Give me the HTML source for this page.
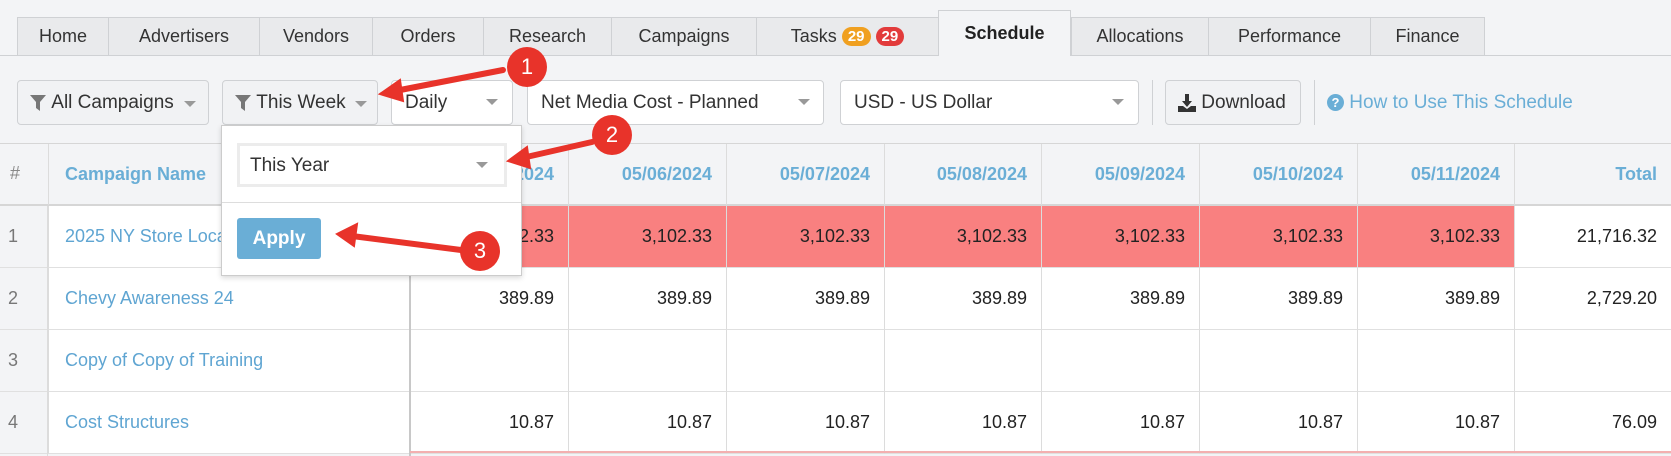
<!DOCTYPE html>
<html><head><meta charset="utf-8"><style>
*{box-sizing:border-box;margin:0;padding:0}
body{width:1671px;height:453px;overflow:hidden;background:#f3f4f6;font-family:"Liberation Sans",Arial,sans-serif;color:#333;position:relative}
.a{position:absolute}
.tab{position:absolute;top:17px;height:39px;background:#e9eaec;border:1px solid #cfd1d4;border-right:none;font-size:18px;color:#333;display:flex;align-items:center;justify-content:center}
.tab.act{top:10px;height:46px;background:#f3f4f6;font-weight:bold;border-right:1px solid #cfd1d4;border-bottom:none;color:#222}
.btn{position:absolute;top:80px;height:45px;border:1px solid #cfd1d4;border-radius:4px;font-size:19px;display:flex;align-items:center;color:#333}
.caret{position:absolute;width:0;height:0;border-left:6px solid transparent;border-right:6px solid transparent;border-top:6px solid #999}
.hd{position:absolute;top:144px;height:61px;font-size:18px;font-weight:bold;color:#6aaed6;display:flex;align-items:center;justify-content:flex-end;padding-right:14px;border-left:1px solid #dcdcdc}
.c{position:absolute;height:62px;font-size:18px;color:#222;display:flex;align-items:center;justify-content:flex-end;padding-right:14px;border-left:1px solid #dcdcdc;border-bottom:1px solid #e0e0e0}
.nm{position:absolute;left:48px;width:362px;height:62px;font-size:18px;color:#5fa5d2;display:flex;align-items:center;padding-left:16px;background:#fff;border-left:1px solid #dcdcdc;border-bottom:1px solid #e0e0e0}
.num{position:absolute;left:0;width:48px;height:62px;font-size:18px;color:#777;display:flex;align-items:center;padding-left:8px;background:#f3f4f6;border-bottom:1px solid #e0e0e0}
.circ{position:absolute;width:40px;height:40px;border-radius:50%;background:#e8332a;color:#fff;font-size:22px;display:flex;align-items:center;justify-content:center}
</style></head><body>
<div class="a" style="left:0;top:55px;width:1671px;height:1px;background:#cfd1d4"></div>
<div class="tab" style="left:17px;width:91px">Home</div>
<div class="tab" style="left:108px;width:151px">Advertisers</div>
<div class="tab" style="left:259px;width:113px">Vendors</div>
<div class="tab" style="left:372px;width:111px">Orders</div>
<div class="tab" style="left:483px;width:128px">Research</div>
<div class="tab" style="left:611px;width:145px">Campaigns</div>
<div class="tab" style="left:756px;width:182px">Tasks&nbsp;<span style="background:#f0a020;color:#fff;border-radius:10px;padding:1px 6px;font-size:15px;font-weight:bold">29</span>&nbsp;<span style="background:#e23b3b;color:#fff;border-radius:10px;padding:1px 6px;font-size:15px;font-weight:bold">29</span></div>
<div class="tab act" style="left:938px;width:133px">Schedule</div>
<div class="tab" style="left:1071px;width:137px">Allocations</div>
<div class="tab" style="left:1208px;width:162px">Performance</div>
<div class="tab" style="left:1370px;width:115px;border-right:1px solid #cfd1d4">Finance</div>

<div class="btn" style="left:17px;width:192px;background:#f1f2f4;padding-left:12px"><svg width="16" height="18" viewBox="0 0 16 18"><path d="M0 1h16l-6 7v9l-4-3V8z" fill="#777"/></svg>&nbsp;All Campaigns</div><div class="caret" style="left:184px;top:101px"></div>
<div class="btn" style="left:222px;width:156px;background:#f1f2f4;padding-left:12px"><svg width="16" height="18" viewBox="0 0 16 18"><path d="M0 1h16l-6 7v9l-4-3V8z" fill="#777"/></svg>&nbsp;This Week</div><div class="caret" style="left:355px;top:101px"></div>
<div class="btn" style="left:391px;width:122px;background:#fff;padding-left:13px">Daily</div><div class="caret" style="left:486px;top:99px"></div>
<div class="btn" style="left:527px;width:297px;background:#fff;padding-left:13px">Net Media Cost - Planned</div><div class="caret" style="left:798px;top:99px"></div>
<div class="btn" style="left:840px;width:299px;background:#fff;padding-left:13px">USD - US Dollar</div><div class="caret" style="left:1112px;top:99px"></div>
<div class="a" style="left:1152px;top:80px;width:1px;height:45px;background:#cfd1d4"></div>
<div class="btn" style="left:1165px;width:136px;background:#f1f2f4;padding-left:12px"><svg width="18" height="18" viewBox="0 0 18 18"><path d="M7 0h4v7h3l-5 6-5-6h3z M0 12h5l4 3 4-3h5v6H0z" fill="#333"/></svg>&nbsp;Download</div>
<div class="a" style="left:1314px;top:80px;width:1px;height:45px;background:#cfd1d4"></div>
<div class="a" style="left:1327px;top:92px;font-size:19px;color:#6aaed6"><span style="display:inline-block;width:17px;height:17px;border-radius:50%;background:#6aaed6;color:#fff;font-size:13px;font-weight:bold;text-align:center;line-height:17px;vertical-align:1px">?</span> How to Use This Schedule</div>

<div class="a" style="left:0;top:143px;width:1671px;height:1px;background:#d6d6d6"></div>
<div class="a" style="left:0;top:204px;width:1671px;height:2px;background:#d6d6d6"></div>
<div class="a" style="left:10px;top:163px;font-size:18px;color:#888">#</div>
<div class="hd" style="left:48px;width:362px;justify-content:flex-start;padding-left:16px">Campaign Name</div>
<div class="hd" style="left:410px;width:158px">05/05/2024</div>
<div class="hd" style="left:568px;width:158px">05/06/2024</div>
<div class="hd" style="left:726px;width:158px">05/07/2024</div>
<div class="hd" style="left:884px;width:157px">05/08/2024</div>
<div class="hd" style="left:1041px;width:158px">05/09/2024</div>
<div class="hd" style="left:1199px;width:158px">05/10/2024</div>
<div class="hd" style="left:1357px;width:157px">05/11/2024</div>
<div class="hd" style="left:1514px;width:157px">Total</div>

<div class="num" style="top:206px">1</div><div class="nm" style="top:206px">2025 NY Store Locations</div>
<div class="num" style="top:268px">2</div><div class="nm" style="top:268px">Chevy Awareness 24</div>
<div class="num" style="top:330px">3</div><div class="nm" style="top:330px">Copy of Copy of Training</div>
<div class="num" style="top:392px">4</div><div class="nm" style="top:392px">Cost Structures</div>
<div class="a" style="left:0;top:206px;width:48px;height:250px;border-right:1px solid #dcdcdc"></div>

<div class="c" style="top:206px;left:410px;width:158px;background:#f98080">3,102.33</div>
<div class="c" style="top:206px;left:568px;width:158px;background:#f98080">3,102.33</div>
<div class="c" style="top:206px;left:726px;width:158px;background:#f98080">3,102.33</div>
<div class="c" style="top:206px;left:884px;width:157px;background:#f98080">3,102.33</div>
<div class="c" style="top:206px;left:1041px;width:158px;background:#f98080">3,102.33</div>
<div class="c" style="top:206px;left:1199px;width:158px;background:#f98080">3,102.33</div>
<div class="c" style="top:206px;left:1357px;width:157px;background:#f98080">3,102.33</div>
<div class="c" style="top:206px;left:1514px;width:157px;background:#fff">21,716.32</div>

<div class="c" style="top:268px;left:410px;width:158px;background:#fff">389.89</div>
<div class="c" style="top:268px;left:568px;width:158px;background:#fff">389.89</div>
<div class="c" style="top:268px;left:726px;width:158px;background:#fff">389.89</div>
<div class="c" style="top:268px;left:884px;width:157px;background:#fff">389.89</div>
<div class="c" style="top:268px;left:1041px;width:158px;background:#fff">389.89</div>
<div class="c" style="top:268px;left:1199px;width:158px;background:#fff">389.89</div>
<div class="c" style="top:268px;left:1357px;width:157px;background:#fff">389.89</div>
<div class="c" style="top:268px;left:1514px;width:157px;background:#fff">2,729.20</div>

<div class="c" style="top:330px;left:410px;width:158px;background:#fff"></div>
<div class="c" style="top:330px;left:568px;width:158px;background:#fff"></div>
<div class="c" style="top:330px;left:726px;width:158px;background:#fff"></div>
<div class="c" style="top:330px;left:884px;width:157px;background:#fff"></div>
<div class="c" style="top:330px;left:1041px;width:158px;background:#fff"></div>
<div class="c" style="top:330px;left:1199px;width:158px;background:#fff"></div>
<div class="c" style="top:330px;left:1357px;width:157px;background:#fff"></div>
<div class="c" style="top:330px;left:1514px;width:157px;background:#fff"></div>

<div class="c" style="top:392px;left:410px;width:158px;background:#fff">10.87</div>
<div class="c" style="top:392px;left:568px;width:158px;background:#fff">10.87</div>
<div class="c" style="top:392px;left:726px;width:158px;background:#fff">10.87</div>
<div class="c" style="top:392px;left:884px;width:157px;background:#fff">10.87</div>
<div class="c" style="top:392px;left:1041px;width:158px;background:#fff">10.87</div>
<div class="c" style="top:392px;left:1199px;width:158px;background:#fff">10.87</div>
<div class="c" style="top:392px;left:1357px;width:157px;background:#fff">10.87</div>
<div class="c" style="top:392px;left:1514px;width:157px;background:#fff">76.09</div>
<div class="a" style="left:409px;top:206px;width:2px;height:250px;background:#c8c8c8"></div>
<div class="a" style="left:410px;top:451px;width:1261px;height:2px;background:#f3b0b0"></div>

<div class="a" style="left:221px;top:125px;width:301px;height:151px;background:#fff;border:1px solid #ccc;box-shadow:0 2px 5px rgba(0,0,0,.15)"></div>
<div class="a" style="left:237px;top:143px;width:270px;height:44px;border:3px solid #ececec;background:#fff;font-size:19px;padding:9px 0 0 10px;color:#333">This Year</div>
<div class="caret" style="left:476px;top:162px"></div>
<div class="a" style="left:222px;top:202px;width:299px;height:1px;background:#ddd"></div>
<div class="a" style="left:237px;top:218px;width:84px;height:41px;background:#6aaed6;border-radius:3px;color:#fff;font-weight:bold;font-size:19px;display:flex;align-items:center;justify-content:center">Apply</div>

<svg class="a" style="left:0;top:0" width="1671" height="453">
<g stroke="#e8332a" stroke-width="6" stroke-linecap="round" fill="#e8332a">
<line x1="503" y1="70" x2="395" y2="91"/>
<polygon points="380,94 400,80 403,101" stroke-width="2"/>
<line x1="592" y1="142" x2="522" y2="158"/>
<polygon points="508,161 527,147 530,168" stroke-width="2"/>
<line x1="461" y1="250" x2="352" y2="236"/>
<polygon points="337,234 357,224 354,246" stroke-width="2"/>
</g></svg>
<div class="circ" style="left:507px;top:47px">1</div>
<div class="circ" style="left:592px;top:115px">2</div>
<div class="circ" style="left:460px;top:231px">3</div>
</body></html>
